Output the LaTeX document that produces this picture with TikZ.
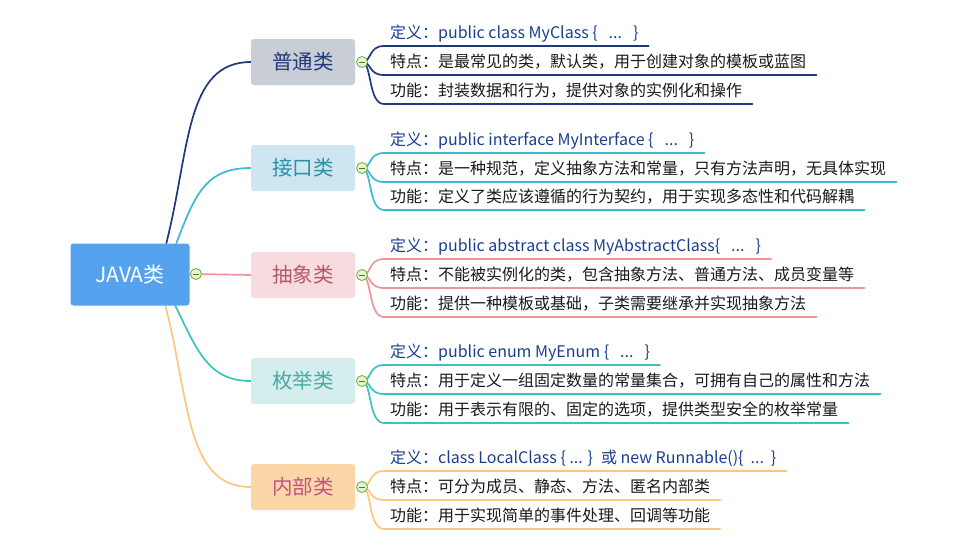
\documentclass[tikz,border=0pt]{standalone}
\usepackage{fontspec}
\setmainfont{Noto Sans CJK SC}
\usetikzlibrary{calc}
\definecolor{rootc}{HTML}{55A3EF}
\definecolor{cnavy}{HTML}{1F3A78}
\definecolor{ccyan}{HTML}{3DB9D3}
\definecolor{cpink}{HTML}{F0949C}
\definecolor{cteal}{HTML}{3CC3BB}
\definecolor{corange}{HTML}{FFC680}
\definecolor{fnavy}{HTML}{C9CDD6}
\definecolor{fcyan}{HTML}{CDE6EF}
\definecolor{fpink}{HTML}{F8DBDF}
\definecolor{fteal}{HTML}{D3EEEC}
\definecolor{forange}{HTML}{FDD6A8}
\definecolor{tnavy}{HTML}{1F3A78}
\definecolor{tcyan}{HTML}{2B90A8}
\definecolor{tpink}{HTML}{B05A63}
\definecolor{tteal}{HTML}{4FA8A2}
\definecolor{torange}{HTML}{C0557E}
\definecolor{defc}{HTML}{1B3F8F}
\definecolor{leafc}{HTML}{1A1A1A}
\definecolor{toggreen}{HTML}{6DAE32}
\definecolor{togfill}{HTML}{E6F4D6}
\pgfdeclarelayer{bg}
\pgfsetlayers{bg,main}
\newcommand\leafline[6]{%
  \node[#5] (#2) at (390,#3-8) {#6};
  \begin{pgfonlayer}{bg}
  \draw[link,#4] (#1.center) .. controls ($(#1.center)+(10,0)$) and ($(#1.center |- 0,#3)+(6,0)$) .. ($(#1.center |- 0,#3)+(22,0)$) -- ($(#2.base east)+(10,8)$);
  \end{pgfonlayer}
}
\begin{document}
\begin{tikzpicture}[x=1pt,y=-1pt,
  rootbox/.style={fill=rootc, rounded corners=3pt, minimum width=119pt, minimum height=62pt, text=white, font=\fontsize{21}{24}\selectfont},
  branch/.style={rounded corners=3pt, minimum width=104pt, minimum height=46pt, font=\fontsize{20.5}{24}\selectfont},
  leaf/.style={anchor=base west, inner sep=0pt, font=\fontsize{16}{20}\selectfont, text=leafc},
  deftext/.style={leaf, text=defc},
  link/.style={line width=1.7pt, line cap=round},
  tog/.style={circle, draw=toggreen, fill=togfill, line width=0.8pt, minimum size=11pt, inner sep=0pt,
    path picture={\draw[toggreen!70!black, line width=1pt] ($(path picture bounding box.west)+(2.5,0)$) -- ($(path picture bounding box.east)+(-2.5,0)$);}}
]
\begin{pgfonlayer}{bg}
\fill[white] (0,0) rectangle (977,555);
\end{pgfonlayer}
\useasboundingbox (0,0) rectangle (977,555);

\node[rootbox] (root) at (130,274.5) {JAVA类};
\node[tog] (rt) at (196,274) {};

\node[branch, fill=fnavy, text=tnavy] (b1) at (303,62) {普通类};
\node[branch, fill=fcyan, text=tcyan] (b2) at (303,168) {接口类};
\node[branch, fill=fpink, text=tpink] (b3) at (303,275) {抽象类};
\node[branch, fill=fteal, text=tteal] (b4) at (303,381) {枚举类};
\node[branch, fill=forange, text=torange] (b5) at (303,487) {内部类};

\node[tog] (t1) at (362,62) {};
\node[tog] (t2) at (362,168) {};
\node[tog] (t3) at (362,275) {};
\node[tog] (t4) at (362,381) {};
\node[tog] (t5) at (362,487) {};

\begin{pgfonlayer}{bg}
\draw[link,cnavy] ($(root.north west)+(96,0)$) .. controls (190,150) and (185,62) .. (b1.west);
\draw[link,ccyan] ($(root.north west)+(106,0)$) .. controls (195,195) and (205,168) .. (b2.west);
\draw[link,cpink] (rt.center) -- (b3.west);
\draw[link,cteal] ($(root.south west)+(105,0)$) .. controls (197,350) and (208,381) .. (b4.west);
\draw[link,corange] ($(root.south west)+(95,0)$) .. controls (190,399) and (185,487) .. (b5.west);
\end{pgfonlayer}

\leafline{t1}{l11}{46}{cnavy}{deftext}{定义：public class MyClass \{\hspace{11pt}...\hspace{11pt}\}}
\leafline{t1}{l12}{75}{cnavy}{leaf}{特点：是最常见的类，默认类，用于创建对象的模板或蓝图}
\leafline{t1}{l13}{104}{cnavy}{leaf}{功能：封装数据和行为，提供对象的实例化和操作}

\leafline{t2}{l21}{153}{ccyan}{deftext}{定义：public interface MyInterface \{\hspace{11pt}...\hspace{11pt}\}}
\leafline{t2}{l22}{182}{ccyan}{leaf}{特点：是一种规范，定义抽象方法和常量，只有方法声明，无具体实现}
\leafline{t2}{l23}{210}{ccyan}{leaf}{功能：定义了类应该遵循的行为契约，用于实现多态性和代码解耦}

\leafline{t3}{l31}{259}{cpink}{deftext}{定义：public abstract class MyAbstractClass\{\hspace{11pt}...\hspace{11pt}\}}
\leafline{t3}{l32}{288}{cpink}{leaf}{特点：不能被实例化的类，包含抽象方法、普通方法、成员变量等}
\leafline{t3}{l33}{317}{cpink}{leaf}{功能：提供一种模板或基础，子类需要继承并实现抽象方法}

\leafline{t4}{l41}{365}{cteal}{deftext}{定义：public enum MyEnum \{\hspace{11pt}...\hspace{11pt}\}}
\leafline{t4}{l42}{394}{cteal}{leaf}{特点：用于定义一组固定数量的常量集合，可拥有自己的属性和方法}
\leafline{t4}{l43}{423}{cteal}{leaf}{功能：用于表示有限的、固定的选项，提供类型安全的枚举常量}

\leafline{t5}{l51}{471}{corange}{deftext}{定义：class LocalClass \{ ... \}\hspace{8pt}或 new Runnable()\{\hspace{7pt}...\hspace{7pt}\}}
\leafline{t5}{l52}{500}{corange}{leaf}{特点：可分为成员、静态、方法、匿名内部类}
\leafline{t5}{l53}{529}{corange}{leaf}{功能：用于实现简单的事件处理、回调等功能}
\end{tikzpicture}
\end{document}
